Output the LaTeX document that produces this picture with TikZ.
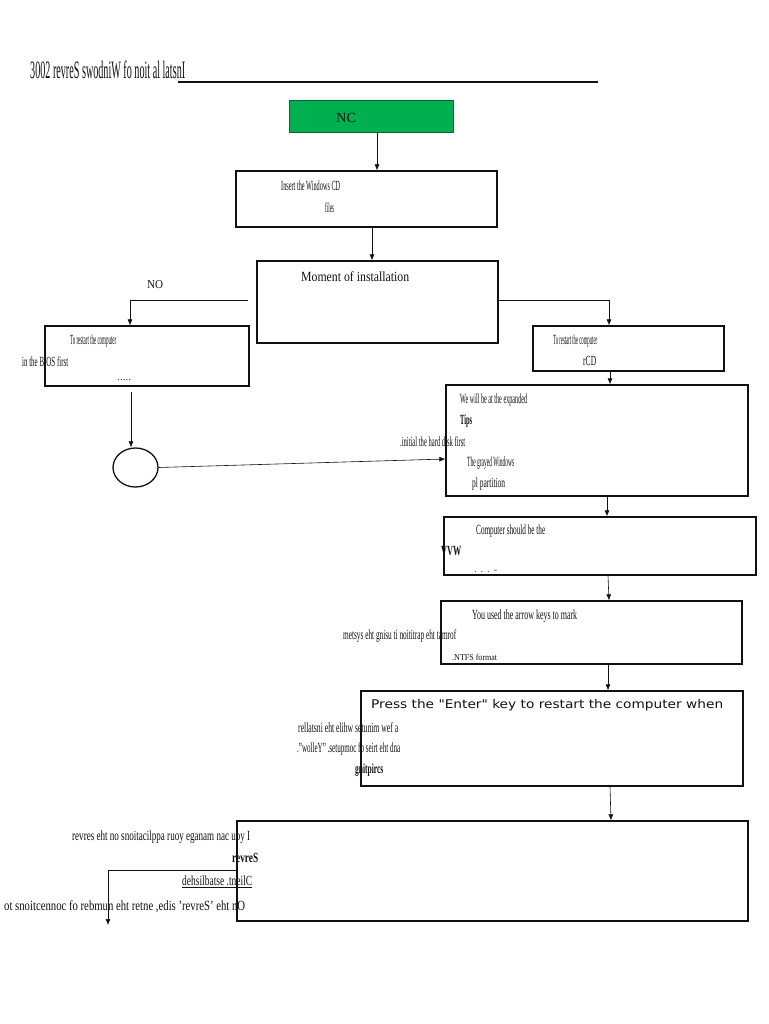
\documentclass[tikz,border=0pt]{standalone}
\usepackage{fontspec}
\setmainfont{Liberation Serif}
\newfontfamily\setupsans{DejaVu Sans}
\usepackage{graphicx}
\usetikzlibrary{positioning,arrows.meta,calc,shapes.geometric}
\definecolor{setupGreen}{HTML}{00B050}
\definecolor{setupInk}{HTML}{111111}
\newcommand{\squish}[2]{\resizebox{#1}{\height}{#2}}
\tikzset{
  setupbox/.style={draw=setupInk,line width=1.3pt,inner sep=0pt},
  setuparrow/.style={-{Latex[length=6pt,width=5pt]},line width=0.6pt,draw=setupInk},
  setupline/.style={line width=0.6pt,draw=setupInk},
  setuptext/.style={inner sep=0pt,anchor=west,text=setupInk,font=\fontsize{14}{16}\selectfont}
}

\begin{document}
\begin{tikzpicture}[x=1pt,y=-1pt]
    \useasboundingbox (0,0) rectangle (768,1024);
    % title
    \node[setuptext,font=\fontsize{25}{27}\selectfont] (title) at (30,70) {\squish{155pt}{3002 revreS swodniW fo noit al latsnI}};
    \draw[line width=1.2pt,draw=setupInk] (178,82) -- (598,82);
    % boxes
    \node[setupbox,fill=setupGreen,draw=setupGreen!60!black,line width=0.8pt,minimum width=164pt,minimum height=32pt] (start) at (371,116) {};
    \node[setupbox,minimum width=261pt,minimum height=56pt] (cd) at (366.5,199) {};
    \node[setupbox,minimum width=241pt,minimum height=82pt] (moment) at (377.5,302) {};
    \node[setupbox,minimum width=204pt,minimum height=60pt] (bios) at (147,356) {};
    \node[setupbox,minimum width=191pt,minimum height=45pt] (boot) at (628.5,348.5) {};
    \node[setupbox,minimum width=302pt,minimum height=111pt] (part) at (597,440.5) {};
    \node[setupbox,ellipse,minimum width=45pt,minimum height=39pt] (join) at (135.5,467.5) {};
    \node[setupbox,minimum width=312pt,minimum height=58pt] (copy) at (600,546) {};
    \node[setupbox,minimum width=301pt,minimum height=63pt] (format) at (591.5,632.5) {};
    \node[setupbox,minimum width=382pt,minimum height=95pt] (restart) at (552,738.5) {};
    \node[setupbox,minimum width=511pt,minimum height=100pt] (server) at (492.5,871) {};
    % texts
    \node[setuptext] (startlabel) at (336,118) {\squish{20pt}{NC}};
    \node[setuptext] (cdone) at (281,186) {\squish{59pt}{Insert the Windows CD}};
    \node[setuptext] (cdtwo) at (325,208) {\squish{9pt}{files}};
    \node[setuptext] (momentlabel) at (301,277) {\squish{108pt}{Moment of installation}};
    \node[setuptext,font=\fontsize{12}{14}\selectfont] (nolabel) at (147,285) {\squish{16pt}{NO}};
    \node[setuptext] (biosone) at (70,341) {\squish{46pt}{To restart the computer}};
    \node[setuptext] (biostwo) at (22,362) {\squish{46pt}{in the BIOS first}};
    \node[setuptext,font=\fontsize{9}{10}\selectfont] (biosdots) at (117,380) {\squish{14pt}{.....}};
    \node[setuptext] (bootone) at (553,341) {\squish{44pt}{To restart the computer}};
    \node[setuptext] (boottwo) at (583,361) {\squish{13pt}{rCD}};
    \node[setuptext] (partone) at (460,400) {\squish{67pt}{We will be at the expanded}};
    \node[setuptext,font=\bfseries\fontsize{14}{16}\selectfont] (parttwo) at (460,421) {\squish{12pt}{Tips}};
    \node[setuptext] (partthree) at (400,442) {\squish{65pt}{.initial the hard disk first}};
    \node[setuptext] (partfour) at (467,463) {\squish{47pt}{The grayed Windows}};
    \node[setuptext] (partfive) at (472,484) {\squish{33pt}{pl partition}};
    \node[setuptext] (copyone) at (476,531) {\squish{69pt}{Computer should be the}};
    \node[setuptext,font=\bfseries\fontsize{14}{16}\selectfont] (copytwo) at (441,551) {\squish{20pt}{VVW}};
    \node[setuptext,font=\fontsize{8}{9}\selectfont] (copythree) at (474,571) {\squish{23pt}{. . . -}};
    \node[setuptext] (formatone) at (472,616) {\squish{105pt}{You used the arrow keys to mark}};
    \node[setuptext] (formattwo) at (343,636) {\squish{113pt}{metsys eht gnisu ti noititrap eht tamrof}};
    \node[setuptext,font=\fontsize{9}{10}\selectfont] (formatthree) at (452,657) {\squish{45pt}{.NTFS format}};
    \node[setuptext,font=\setupsans\fontsize{12}{14}\selectfont] (restartone) at (371,705) {\squish{352pt}{Press the "Enter" key to restart the computer when}};
    \node[setuptext] (restarttwo) at (298,728) {\squish{100pt}{rellatsni eht elihw setunim wef a}};
    \node[setuptext] (restartthree) at (297,749) {\squish{103pt}{."wolleY" .setupmoc fo seirt eht dna}};
    \node[setuptext,font=\bfseries\fontsize{14}{16}\selectfont] (restartfour) at (355,770) {\squish{28pt}{gnitpircs}};
    \node[setuptext] (serverone) at (72,837) {\squish{178pt}{revres eht no snoitacilppa ruoy eganam nac uoy I}};
    \node[setuptext,font=\bfseries\fontsize{14}{16}\selectfont] (servertwo) at (232,858) {\squish{26pt}{revreS}};
    \node[setuptext] (serverthree) at (182,882) {\underline{\squish{70pt}{dehsilbatse .tneilC}}};
    \node[setuptext] (serverfour) at (4,907) {\squish{241pt}{ot snoitcennoc fo rebmun eht retne ,edis 'revreS' eht nO}};
    % connectors
    \draw[setuparrow] ([xshift=6pt]start.south) -- ([xshift=6pt]start.south |- cd.north);
    \draw[setuparrow] ([xshift=5.5pt]cd.south) -- ([xshift=5.5pt]cd.south |- moment.north);
    \draw[setuparrow] ([xshift=-8pt,yshift=2pt]moment.west) -| ([xshift=-17pt]bios.north);
    \draw[setuparrow] ([yshift=2pt]moment.east) -| ([xshift=-19.5pt]boot.north);
    \draw[setuparrow] ([xshift=-18.5pt]boot.south) -- ([xshift=-18.5pt]boot.south |- part.north);
    \draw[setuparrow] ([xshift=-16pt,yshift=-5pt]bios.south) -- ([xshift=-16pt]bios.south |- join.north);
    \draw[setuparrow] (join.east) -- ([yshift=-18.5pt]part.west);
    \draw[setuparrow] ([xshift=10pt]part.south) -- ([xshift=10pt]part.south |- copy.north);
    \draw[setuparrow] ([xshift=8pt]copy.south) -- ([xshift=9pt]copy.south |- format.north);
    \draw[setuparrow] ([xshift=16.5pt]format.south) -- ([xshift=16.5pt]format.south |- restart.north);
    \draw[setuparrow] ([xshift=58pt]restart.south) -- ([xshift=59pt]restart.south |- server.north);
    \coordinate (serverexit) at (108,925);
    \draw[setuparrow] ([yshift=1pt]server.west) -| (serverexit);
  \end{tikzpicture}
\end{document}
